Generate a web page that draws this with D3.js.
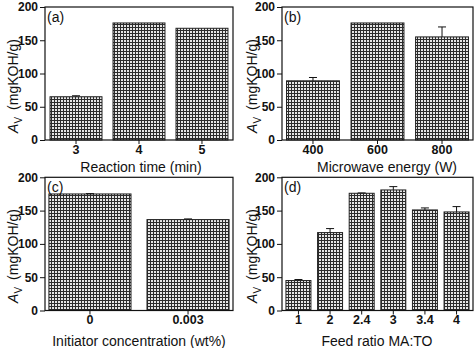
<!DOCTYPE html>
<html><head><meta charset="utf-8">
<script src="https://cdn.jsdelivr.net/npm/d3@7/dist/d3.min.js"></script>
<style>
body{margin:0;background:#fff;}
svg{display:block;font-family:"Liberation Sans",Arial,sans-serif;}
</style></head><body>
<svg id="c" width="474" height="348"></svg>
<script>
const yTicks = [0, 50, 100, 150, 200];

const catsA = ["3", "4", "5"];
const valsA = [65, 176, 168];
const errA  = [1.5, 0, 0];

const catsB = ["400", "600", "800"];
const valsB = [89, 176, 155];
const errB  = [5, 0, 15];

const catsC = ["0", "0.003"];
const valsC = [175, 136.5];
const errC  = [0.5, 1];

const catsD = ["1", "2", "2.4", "3", "3.4", "4"];
const valsD = [45, 117, 176, 181, 151, 148];
const errD  = [1.5, 6, 0.5, 5, 3, 8];

const titles = ["Reaction time (min)", "Microwave energy (W)", "Initiator concentration (wt%)", "Feed ratio MA:TO"];
const tags = ["(a)", "(b)", "(c)", "(d)"];

const svg = d3.select("#c");
const defs = svg.append("defs");
const pat = defs.append("pattern").attr("id","hatch").attr("patternUnits","userSpaceOnUse")
  .attr("width",3).attr("height",3);
pat.append("rect").attr("width",3).attr("height",3).attr("fill","#2c2c2c");
pat.append("rect").attr("x",1).attr("y",1).attr("width",2).attr("height",2).attr("fill","#e6e6e6");

const tickFont = "'Liberation Sans Narrow', 'Liberation Sans', Arial, sans-serif";

const layouts = [
  {x0:45, x1:233, y0:140, y1:7, pi:0.175, po:0.08, lx:13, ly:86, tx:141, ty:172},
  {x0:282, x1:473, y0:140, y1:7, pi:0.18, po:0.07, lx:252, ly:86, tx:387, ty:172},
  {x0:45, x1:233, y0:310.5, y1:177.3, pi:0.163, po:0.04, lx:13, ly:256, tx:139, ty:346},
  {x0:282, x1:473, y0:310.5, y1:177.3, pi:0.21, po:0.125, lx:252, ly:256, tx:377, ty:346}
];
const data = [[catsA,valsA,errA],[catsB,valsB,errB],[catsC,valsC,errC],[catsD,valsD,errD]];

data.forEach(([cats, vals, errs], i) => {
  const L = layouts[i];
  const x = d3.scaleBand().domain(cats).range([L.x0, L.x1]).paddingInner(L.pi).paddingOuter(L.po);
  const y = d3.scaleLinear().domain([0, 200]).range([L.y0, L.y1]);
  const g = svg.append("g");

  // bars
  g.selectAll("rect.bar").data(cats).enter().append("rect")
    .attr("x", d => x(d)).attr("width", x.bandwidth())
    .attr("y", (d, k) => y(vals[k])).attr("height", (d, k) => y(0) - y(vals[k]))
    .attr("fill", "url(#hatch)").attr("stroke", "#222").attr("stroke-width", 1);

  // error bars (upper)
  cats.forEach((d, k) => {
    if (errs[k] <= 0) return;
    const cx = x(d) + x.bandwidth() / 2;
    g.append("line").attr("x1", cx).attr("x2", cx).attr("y1", y(vals[k])).attr("y2", y(vals[k] + errs[k]))
      .attr("stroke", "#111").attr("stroke-width", 1);
    g.append("line").attr("x1", cx - 4).attr("x2", cx + 4).attr("y1", y(vals[k] + errs[k])).attr("y2", y(vals[k] + errs[k]))
      .attr("stroke", "#111").attr("stroke-width", 1);
  });

  // frame
  g.append("rect").attr("x", L.x0).attr("y", L.y1).attr("width", L.x1 - L.x0).attr("height", L.y0 - L.y1)
    .attr("fill", "none").attr("stroke", "#111").attr("stroke-width", 1.2);

  // y axis
  const ya = d3.axisLeft(y).tickValues(yTicks).tickSize(5).tickPadding(2).tickFormat(d3.format("d"));
  const yg = g.append("g").attr("transform", `translate(${L.x0},0)`).call(ya);
  yg.select(".domain").remove();
  yg.selectAll("text").attr("font-size", 12).attr("font-weight", "bold").attr("fill", "#111").attr("font-family", tickFont);
  yg.selectAll("line").attr("stroke", "#111");

  // x axis
  const xa = d3.axisBottom(x).tickSize(4).tickPadding(1);
  const xg = g.append("g").attr("transform", `translate(0,${L.y0})`).call(xa);
  xg.select(".domain").remove();
  xg.selectAll("text").attr("font-size", 12.5).attr("font-weight", "bold").attr("fill", "#111").attr("font-family", tickFont);
  xg.selectAll("line").attr("stroke", "#111");

  // x title
  g.append("text").attr("x", L.tx).attr("y", L.ty).attr("text-anchor", "middle")
    .attr("font-size", 14).attr("fill", "#111").text(titles[i]);

  // y title
  const yt = g.append("text").attr("transform", `translate(${L.lx},${L.ly}) rotate(-90)`)
    .attr("text-anchor", "middle").attr("font-size", 14).attr("fill", "#111").attr("dy", "0.35em");
  yt.append("tspan").attr("font-style", "italic").text("A");
  yt.append("tspan").attr("font-size", 10).attr("dy", 4).text("V");
  yt.append("tspan").attr("dy", -4).text("\u2002(mgKOH/g)");

  // panel tag
  g.append("text").attr("x", L.x0 + 2).attr("y", L.y1 + 15).attr("font-size", 14).attr("fill", "#111").text(tags[i]);
});
</script>
</body></html>
